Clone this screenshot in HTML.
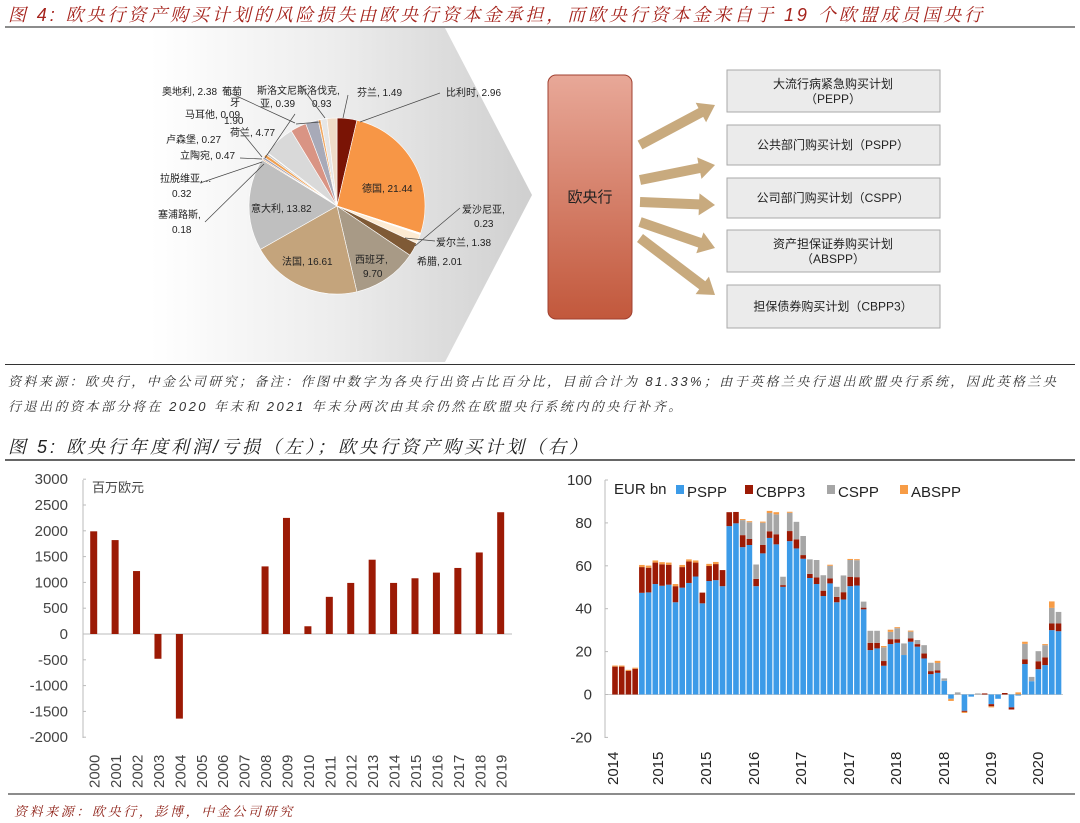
<!DOCTYPE html>
<html><head><meta charset="utf-8">
<style>
body{margin:0;background:#fff;width:1080px;height:823px;overflow:hidden;position:relative;font-family:"Liberation Sans","Noto Sans CJK SC",sans-serif}
.t{position:absolute;white-space:nowrap}
.it{font-style:italic;font-family:"Liberation Sans","Noto Serif CJK SC","Noto Sans CJK SC",sans-serif}
</style></head><body>
<div class="t it" style="left:8px;top:1px;font-size:18px;color:#a5231c;letter-spacing:2.9px">图 4: 欧央行资产购买计划的风险损失由欧央行资本金承担，而欧央行资本金来自于 19 个欧盟成员国央行</div>
<div style="position:absolute;left:5px;top:26px;width:1070px;height:2px;background:#8c8c8c"></div>
<svg id="s" width="1080" height="823" style="position:absolute;left:0;top:0" xmlns="http://www.w3.org/2000/svg"></svg>
<div style="position:absolute;left:5px;top:364px;width:1070px;height:1px;background:#333"></div>
<div class="t it" style="left:8px;top:371px;font-size:13px;color:#333;letter-spacing:2.4px">资料来源：欧央行，中金公司研究；备注：作图中数字为各央行出资占比百分比，目前合计为 81.33%；由于英格兰央行退出欧盟央行系统，因此英格兰央</div>
<div class="t it" style="left:8px;top:396px;font-size:13px;color:#333;letter-spacing:2.5px">行退出的资本部分将在 2020 年末和 2021 年末分两次由其余仍然在欧盟央行系统内的央行补齐。</div>
<div class="t it" style="left:8px;top:433px;font-size:18px;color:#222;letter-spacing:3px">图 5: 欧央行年度利润/亏损（左）；欧央行资产购买计划（右）</div>
<div style="position:absolute;left:5px;top:459px;width:1070px;height:2px;background:#666"></div>
<div style="position:absolute;left:8px;top:793px;width:1067px;height:2px;background:#8c8c8c"></div>
<div class="t it" style="left:14px;top:801px;font-size:13px;color:#8b1a10;letter-spacing:2.6px">资料来源：欧央行，彭博，中金公司研究</div>
<script>
var s=document.getElementById('s'),h='';
function R(x,y,w,hh,c){if(hh<0){y+=hh;hh=-hh;}h+='<rect x="'+x.toFixed(2)+'" y="'+y.toFixed(2)+'" width="'+w+'" height="'+hh.toFixed(2)+'" fill="'+c+'"/>';}
function T(x,y,t,sz,c,a,ex){h+='<text x="'+x+'" y="'+y+'" font-size="'+sz+'" fill="'+(c||'#333')+'" text-anchor="'+(a||'start')+'" '+(ex||'')+'>'+t+'</text>';}
h+='<defs><linearGradient id="ga" x1="0" x2="1"><stop offset="0" stop-color="#fff"/><stop offset="0.5" stop-color="#ececec"/><stop offset="1" stop-color="#cfcfcf"/></linearGradient><linearGradient id="gb" x1="0" x2="0" y1="0" y2="1"><stop offset="0" stop-color="#e8a898"/><stop offset="1" stop-color="#c2583c"/></linearGradient></defs>';
h+='<polygon points="150,28 445,28 532,195 445,362 150,362" fill="url(#ga)"/>';
var cx=337,cy=206,r=88;
var d=[[2.96,'#7a1405'],[21.44,'#f79646'],[0.23,'#ffffff'],[1.38,'#fdebd3'],[2.01,'#7f5a36'],[9.70,'#a89a86'],[16.61,'#c4a47c'],[13.82,'#bfbfbf'],[0.18,'#e8a060'],[0.32,'#9ea0b6'],[0.47,'#f0a050'],[0.27,'#c0c0c0'],[0.09,'#888'],[4.77,'#d9d9d9'],[2.38,'#d99484'],[1.90,'#a8aab8'],[0.39,'#f2a860'],[0.93,'#e6e6e6'],[1.49,'#f0dcc8']];
var tot=81.33,a0=0;
d.forEach(function(e){var a1=a0+e[0]/tot*2*Math.PI;
var x0=cx+r*Math.sin(a0),y0=cy-r*Math.cos(a0),x1=cx+r*Math.sin(a1),y1=cy-r*Math.cos(a1);
h+='<path d="M'+cx+','+cy+'L'+x0.toFixed(2)+','+y0.toFixed(2)+'A'+r+','+r+' 0 '+((a1-a0)>Math.PI?1:0)+' 1 '+x1.toFixed(2)+','+y1.toFixed(2)+'Z" fill="'+e[1]+'" stroke="#fff" stroke-width="0.6"/>';a0=a1;});
var L=[[162,95,'奥地利, 2.38'],[222,95,'葡萄'],[230,106,'牙'],[257,94,'斯洛文尼斯洛伐克,'],[260,107,'亚, 0.39'],[312,107,'0.93'],[357,96,'芬兰, 1.49'],[446,96,'比利时, 2.96'],[185,118,'马耳他, 0.09'],[224,124,'1.90'],[230,136,'荷兰, 4.77'],[166,143,'卢森堡, 0.27'],[180,159,'立陶宛, 0.47'],[160,182,'拉脱维亚, ..'],[172,197,'0.32'],[158,218,'塞浦路斯,'],[172,233,'0.18'],[251,212,'意大利, 13.82'],[362,192,'德国, 21.44'],[462,213,'爱沙尼亚,'],[474,227,'0.23'],[436,246,'爱尔兰, 1.38'],[417,265,'希腊, 2.01'],[355,263,'西班牙,'],[363,277,'9.70'],[282,265,'法国, 16.61']];
L.forEach(function(l){T(l[0],l[1],l[2],10,'#222');});
var LL=[[230,93,295,123],[296,124,320,122],[295,114,265,158],[300,85,325,118],[348,95,343,118],[440,93,360,122],[240,130,262,157],[240,158,262,159],[200,183,262,162],[205,222,264,164],[460,208,415,246],[435,241,405,238]];
LL.forEach(function(l){h+='<line x1="'+l[0]+'" y1="'+l[1]+'" x2="'+l[2]+'" y2="'+l[3]+'" stroke="#444" stroke-width="0.7"/>';});
h+='<rect x="548" y="75" width="84" height="244" rx="8" fill="url(#gb)" stroke="#a04030" stroke-width="1"/>';
T(590,202,'欧央行',15,'#222','middle');
[[640,145,715,105],[640,180,715,165],[640,202,715,205],[640,222,715,248],[640,238,715,295]].forEach(function(a){var dx=a[2]-a[0],dy=a[3]-a[1],l=Math.hypot(dx,dy),ux=dx/l,uy=dy/l,px=-uy,py=ux;
var bx=a[2]-ux*16,by=a[3]-uy*16;
var p=[[a[0]+px*5,a[1]+py*5],[bx+px*5,by+py*5],[bx+px*11,by+py*11],[a[2],a[3]],[bx-px*11,by-py*11],[bx-px*5,by-py*5],[a[0]-px*5,a[1]-py*5]];
h+='<polygon points="'+p.map(function(q){return q[0].toFixed(1)+','+q[1].toFixed(1)}).join(' ')+'" fill="#c8aa7e"/>';});
var B=[[70,112,['大流行病紧急购买计划','（PEPP）']],[125,165,['公共部门购买计划（PSPP）']],[178,218,['公司部门购买计划（CSPP）']],[230,272,['资产担保证券购买计划','（ABSPP）']],[285,328,['担保债券购买计划（CBPP3）']]];
B.forEach(function(b){h+='<rect x="727" y="'+b[0]+'" width="213" height="'+(b[1]-b[0])+'" fill="#ebebeb" stroke="#aaa"/>';
if(b[2].length==1)T(833,(b[0]+b[1])/2+4,b[2][0],12,'#222','middle');else{T(833,(b[0]+b[1])/2-3,b[2][0],12,'#222','middle');T(833,(b[0]+b[1])/2+12,b[2][1],12,'#222','middle');}});
var y0=634,k=25.8/500;
h+='<line x1="83" y1="480" x2="83" y2="738" stroke="#bbb"/><line x1="83" y1="634" x2="512" y2="634" stroke="#bbb"/>';
for(var v=3000;v>=-2000;v-=500){var y=y0-v*k;T(68,y+5,v,15,'#444','end');h+='<line x1="83" y1="'+y+'" x2="86" y2="'+y+'" stroke="#bbb"/>';}
T(92,492,'百万欧元',13,'#444');
var lv=[1990,1820,1220,-480,-1640,0,0,0,1310,2250,150,720,990,1440,990,1080,1190,1280,1580,2360];
lv.forEach(function(v,i){var x=93.7+i*21.42;R(x-3.5,y0,7,-v*k,'#9c1a05');T(0,0,2000+i,15,'#444','start','transform="translate('+(x+6)+',788) rotate(-90)"');});
var z=694.5,kk=(694.5-480)/100;
h+='<line x1="605" y1="480" x2="605" y2="738" stroke="#bbb"/><line x1="605" y1="'+z+'" x2="1063" y2="'+z+'" stroke="#ccc"/>';
for(var v=100;v>=-20;v-=20){var y=z-v*kk;T(592,y+5,v,15,'#333','end');h+='<line x1="605" y1="'+y+'" x2="608" y2="'+y+'" stroke="#bbb"/>';}
T(614,494,'EUR bn',15,'#222');
[[676,'#3c9be8','PSPP'],[745,'#9c1a05','CBPP3'],[827,'#a6a6a6','CSPP'],[900,'#f79c46','ABSPP']].forEach(function(l){R(l[0],485,8,9,l[1]);T(l[0]+11,497,l[2],15,'#222');});
var D=[[0,13,0,.5],[0,13,0,.5],[0,11,0,.5],[0,12,0,.5],[47.4,12,0,1],[47.6,11.5,0,1],[51.5,10,0,1],[50.7,10,0,1],[51.2,9.3,0,1],[43,7.5,0,1],[49.8,9.6,0,1],[52,10,0,1],[55,6.5,0,1],[42.5,5,0,0],[52.9,7,0,1],[53.3,7.5,0,1],[50.5,7.5,0,0],[78.5,6.5,0,0],[79.8,5.3,0,0],[68.7,5.6,7,.5],[69.7,2.8,7.8,.5],[50.5,3.4,6.7,0],[65.8,3.9,10.4,.5],[73,3.1,8.5,1],[70,4.7,9.3,1],[50.2,.8,3.9,0],[71.5,4.7,8.5,.5],[68.1,4.2,8.2,0],[63.3,1.7,8.9,0],[54.3,1.9,6.8,0],[51.5,3.1,8.1,0],[45.9,2.5,7.2,0],[51.8,2.3,5.9,.5],[43,2.5,4.7,0],[44.3,3.4,7.8,0],[50.5,4.4,7.8,.5],[50.8,3.9,7.9,.5],[39.7,.8,2.8,0],[20.7,3.4,5.6,0],[21.5,2.6,5.6,0],[13.4,2.2,6.4,.6],[23.5,2.3,3.4,1],[24.1,1.7,5.1,.5],[18.4,0,5.4,0],[24.6,1.6,3.1,.5],[22.3,1.2,1.9,0],[16.8,2.3,3.9,0],[9.5,1.4,3.9,0],[10.1,1.2,3.4,1],[6.4,0,1.1,0],[-2,0,0,-1],[0,0,1,0],[-7.6,-.5,0,-.5],[-1,0,0,0],[0,0,.5,0],[0,.5,0,0],[-4.5,-1,0,-.5],[-2,0,0,0],[0,.7,0,0],[-6,-1,0,0],[-.5,0,0,1],[14.2,2.2,7.2,1],[6.2,0,2,0],[11.8,3.7,4.7,0],[13.7,3.6,5.7,.5],[30,3.1,7.3,3],[29.5,3.6,5.4,0]];
var cols=['#3c9be8','#9c1a05','#a6a6a6','#f79c46'];
D.forEach(function(b,i){var x=615+i*6.72-2.8,pos=z,neg=z;b.forEach(function(v,j){if(v>0){R(x,pos,5.6,-v*kk,cols[j]);pos-=v*kk;}else if(v<0){R(x,neg,5.6,-v*kk,cols[j]);neg-=v*kk;}});});
[[612,'2014'],[657,'2015'],[705,'2015'],[753,'2016'],[800,'2017'],[848,'2017'],[895,'2018'],[943,'2018'],[990,'2019'],[1037,'2020']].forEach(function(l){T(0,0,l[1],15,'#222','start','transform="translate('+(l[0]+6)+',785) rotate(-90)"');});
s.innerHTML=h;
</script>
</body></html>
